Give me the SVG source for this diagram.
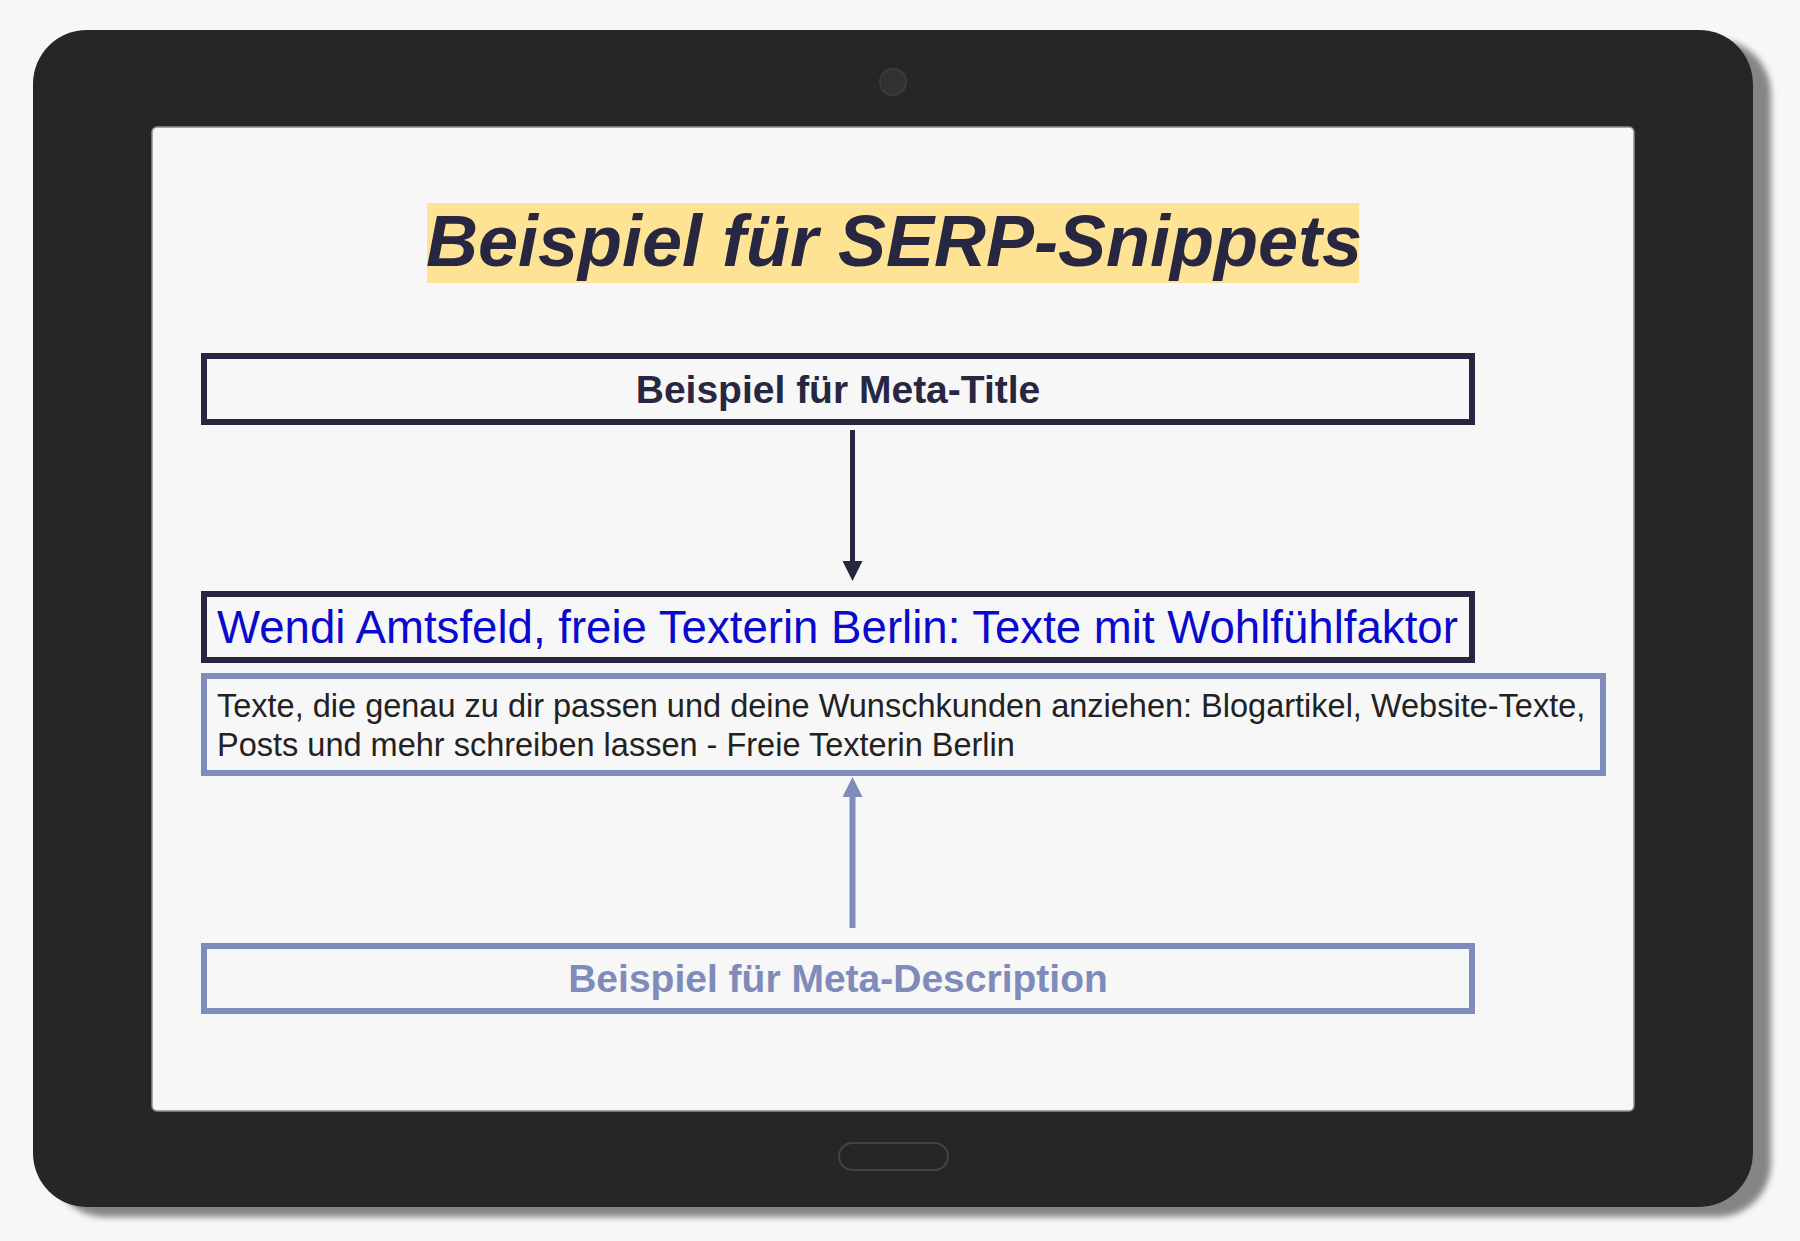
<svg xmlns="http://www.w3.org/2000/svg" width="1800" height="1241" viewBox="0 0 1800 1241">
  <style>
    text { font-family: "Liberation Sans", Arial, sans-serif; }
    .dark { fill: none; stroke: #272741; stroke-width: 6; }
    .peri { fill: none; stroke: #7f8bba; stroke-width: 6; }
    .lbl { font-size: 39px; font-weight: bold; text-anchor: middle; }
    .desc { font-size: 32.5px; fill: #222222; }
  </style>
  <defs>
    <filter id="shadow" x="-5%" y="-5%" width="112%" height="115%">
      <feDropShadow dx="18" dy="10" stdDeviation="3" flood-color="#858585" flood-opacity="1"/>
    </filter>
    <marker id="arrDark" viewBox="0 0 20 20" refX="10" refY="10" markerWidth="20" markerHeight="20" markerUnits="userSpaceOnUse" orient="auto">
      <path d="M0,0 L20,10 L0,20 z" fill="#272741"/>
    </marker>
    <marker id="arrPeri" viewBox="0 0 20 20" refX="10" refY="10" markerWidth="20" markerHeight="20" markerUnits="userSpaceOnUse" orient="auto">
      <path d="M0,0 L20,10 L0,20 z" fill="#7f8bba"/>
    </marker>
  </defs>
  <rect x="0" y="0" width="1800" height="1241" fill="#f7f7f7"/>
  <g id="tablet">
    <rect x="33" y="30" width="1720" height="1177" rx="54" fill="#262626" filter="url(#shadow)"/>
    <rect x="152" y="127" width="1482" height="984" rx="5" fill="#f7f7f7" stroke="#8f8f8f" stroke-width="1.5"/>
    <circle cx="893" cy="82" r="13" fill="#313131" stroke="#3b3b3b" stroke-width="2"/>
    <rect x="839" y="1143" width="109" height="27" rx="13.5" fill="none" stroke="#444444" stroke-width="2"/>
  </g>
  <g id="title">
    <rect x="427" y="203" width="932" height="80" fill="#ffe394"/>
    <text x="894" y="266" font-size="72" font-weight="bold" font-style="italic" text-anchor="middle" fill="#272741">Beispiel für SERP-Snippets</text>
  </g>
  <g id="meta-title">
    <rect class="dark" x="204" y="356" width="1268" height="66"/>
    <text class="lbl" x="838" y="403" fill="#272741">Beispiel für Meta-Title</text>
  </g>
  <g id="serp-title">
    <rect class="dark" x="204" y="594" width="1268" height="66"/>
    <text x="217" y="643" font-size="45.6" fill="#0a0acc">Wendi Amtsfeld, freie Texterin Berlin: Texte mit Wohlfühlfaktor</text>
  </g>
  <g id="serp-description">
    <rect class="peri" x="204" y="676" width="1399" height="97"/>
    <text class="desc" x="217" y="717">Texte, die genau zu dir passen und deine Wunschkunden anziehen: Blogartikel, Website-Texte,</text>
    <text class="desc" x="217" y="756">Posts und mehr schreiben lassen - Freie Texterin Berlin</text>
  </g>
  <g id="meta-description">
    <rect class="peri" x="204" y="946" width="1268" height="65"/>
    <text class="lbl" x="838" y="992" fill="#7f8bba">Beispiel für Meta-Description</text>
  </g>
  <g id="connectors">
    <line x1="852.5" y1="430" x2="852.5" y2="571" stroke="#272741" stroke-width="5" marker-end="url(#arrDark)"/>
    <line x1="852.5" y1="928" x2="852.5" y2="787" stroke="#7f8bba" stroke-width="6" marker-end="url(#arrPeri)"/>
  </g>
</svg>
